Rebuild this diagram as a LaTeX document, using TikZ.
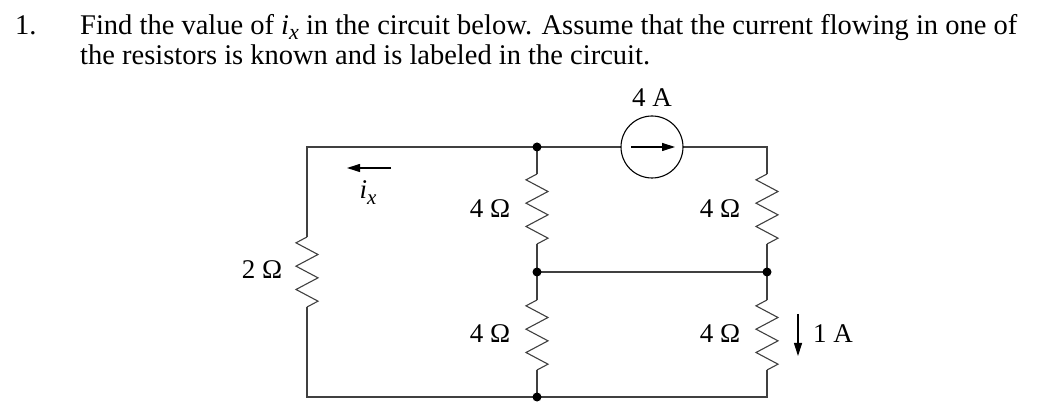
\documentclass[tikz,border=0pt]{standalone}
\usepackage{fontspec}
\setmainfont{Liberation Serif}
\usetikzlibrary{arrows.meta}
\newcommand{\zres}[3]{% x, ytop, ybottom
  \pgfmathsetmacro{\hh}{(#3-#2)/12}
  \draw[wire] (#1,#2) -- ++(-11,\hh) -- ++(22,2*\hh) -- ++(-22,2*\hh) -- ++(22,2*\hh) -- ++(-22,2*\hh) -- ++(22,2*\hh) -- ++(-11,\hh);}
\begin{document}
\begin{tikzpicture}[x=1pt,y=-1pt,
  wire/.style={line width=1.1pt,black!75},
  dot/.style={circle,fill=black,inner sep=0pt,minimum size=9pt},
  lbl/.style={font=\fontsize{27}{30}\selectfont,inner sep=0pt},
  arr/.style={line width=1.1pt,-{Triangle[length=13pt,width=8pt]}}]
\useasboundingbox (0,0) rectangle (1052,419);
\node[anchor=base west,inner sep=0pt,font=\fontsize{28.5}{30}\selectfont] (num) at (15,35) {1.};
\node[anchor=base west,inner sep=0pt,font=\fontsize{28.5}{30}\selectfont] (l1) at (80,35) {Find the value of \textit{i}\raisebox{-5pt}{\fontsize{22}{24}\selectfont\textit{x}} in the circuit below. Assume that the current flowing in one of};
\node[anchor=base west,inner sep=0pt,font=\fontsize{28.5}{30}\selectfont] (l2) at (80,65) {the resistors is known and is labeled in the circuit.};
% wires
\draw[wire] (307,237) -- (307,147) -- (621,147);
\draw[wire] (683,147) -- (767,147) -- (767,174);
\draw[wire] (537,147) -- (537,174);
\draw[wire] (537,244) -- (537,300);
\draw[wire] (767,244) -- (767,300);
\draw[wire] (537,272) -- (767,272);
\draw[wire] (307,307) -- (307,397) -- (767,397) -- (767,370);
\draw[wire] (537,370) -- (537,397);
\zres{307}{237}{307}
\zres{537}{174}{244}
\zres{537}{300}{370}
\zres{767}{174}{244}
\zres{767}{300}{370}
\node[dot] (n1) at (537,147) {};
\node[dot] (n2) at (537,272) {};
\node[dot] (n3) at (767,272) {};
\node[dot] (n4) at (537,397) {};
\node[circle,draw,line width=1.1pt,minimum size=62pt,inner sep=0pt] (src) at (652,147) {};
\draw[arr] (631,147) -- (675,147);
\node[lbl] (la) at (652,98) {4 A};
\draw[arr] (391,168) -- (347,168);
\node[lbl] (ix) at (368,193) {\textit{i}\raisebox{-6pt}{\fontsize{21}{24}\selectfont\textit{x}}};
\node[lbl] (r1) at (262,270) {2 Ω};
\node[lbl] (r2) at (490,209) {4 Ω};
\node[lbl] (r3) at (720,209) {4 Ω};
\node[lbl] (r4) at (490,334) {4 Ω};
\node[lbl] (r5) at (720,334) {4 Ω};
\draw[arr] (798,314) -- (798,356);
\node[lbl] (oa) at (833,334) {1 A};
\end{tikzpicture}
\end{document}
